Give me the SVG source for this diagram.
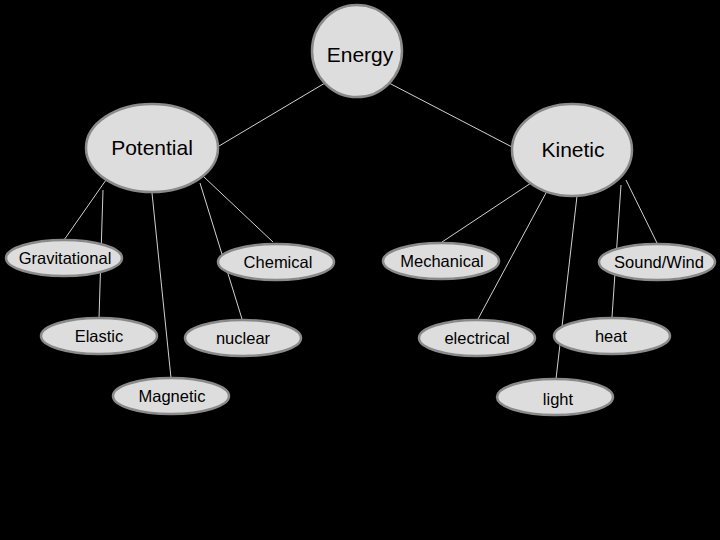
<svg xmlns="http://www.w3.org/2000/svg" width="720" height="540" viewBox="0 0 720 540">
<style>
ellipse{fill:#dddddd;stroke:#8a8a8a;stroke-width:2.5}
text{font-family:"Liberation Sans",Arial,sans-serif;fill:#000;text-anchor:middle}
.s{font-size:16.5px}
.b{font-size:21px}
#connectors line{stroke:#d0d0d0;stroke-width:1}
</style>
<rect width="720" height="540" fill="#000"/>
<g id="connectors">
<line x1="325" y1="83" x2="219" y2="146"/>
<line x1="389" y1="83" x2="512" y2="147"/>
<line x1="106" y1="180" x2="64" y2="240"/>
<line x1="103" y1="190" x2="99" y2="318"/>
<line x1="152" y1="193" x2="171" y2="378"/>
<line x1="200" y1="183" x2="242" y2="319"/>
<line x1="204" y1="177" x2="273" y2="242"/>
<line x1="531" y1="183" x2="442" y2="242"/>
<line x1="547" y1="191" x2="478" y2="319"/>
<line x1="577" y1="196" x2="556" y2="379"/>
<line x1="621" y1="185" x2="612" y2="317"/>
<line x1="626" y1="180" x2="657" y2="243"/>
</g>
<g id="energy"><ellipse cx="357" cy="51" rx="45" ry="46"/><text class="b" x="360" y="62">Energy</text></g>
<g id="potential"><ellipse cx="152" cy="148" rx="66" ry="44"/><text class="b" x="152" y="155">Potential</text></g>
<g id="kinetic"><ellipse cx="572" cy="150" rx="60" ry="46"/><text class="b" x="573" y="157">Kinetic</text></g>
<g id="gravitational"><ellipse cx="64" cy="258" rx="58" ry="18"/><text class="s" x="65" y="264">Gravitational</text></g>
<g id="chemical"><ellipse cx="276" cy="262" rx="58" ry="18"/><text class="s" x="278" y="268">Chemical</text></g>
<g id="mechanical"><ellipse cx="441" cy="261" rx="58" ry="18"/><text class="s" x="442" y="267">Mechanical</text></g>
<g id="soundwind"><ellipse cx="657" cy="262" rx="58" ry="18"/><text class="s" x="659" y="268">Sound/Wind</text></g>
<g id="elastic"><ellipse cx="99" cy="336" rx="58" ry="18"/><text class="s" x="99" y="342">Elastic</text></g>
<g id="nuclear"><ellipse cx="243" cy="338" rx="58" ry="18"/><text class="s" x="243" y="344">nuclear</text></g>
<g id="electrical"><ellipse cx="477" cy="338" rx="58" ry="18"/><text class="s" x="477" y="344">electrical</text></g>
<g id="heat"><ellipse cx="612" cy="336" rx="58" ry="18"/><text class="s" x="611" y="342">heat</text></g>
<g id="magnetic"><ellipse cx="171" cy="396" rx="58" ry="18"/><text class="s" x="172" y="402">Magnetic</text></g>
<g id="light"><ellipse cx="555" cy="397" rx="58" ry="18"/><text class="s" x="558" y="405">light</text></g>
</svg>
